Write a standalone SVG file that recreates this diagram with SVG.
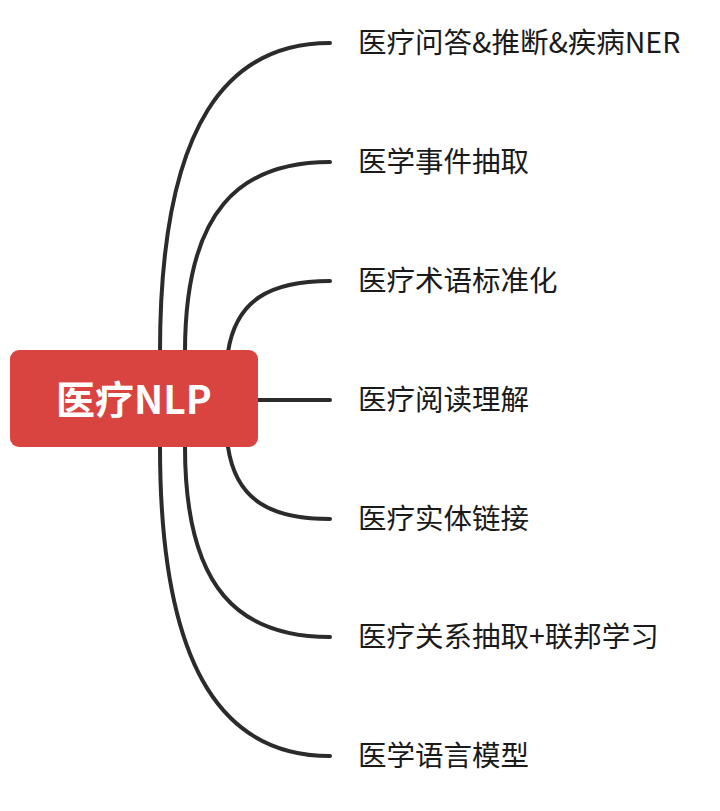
<svg xmlns="http://www.w3.org/2000/svg" width="720" height="811" viewBox="0 0 720 811">
<style>
.c{fill:none;stroke:#2b2b2b;stroke-width:4;stroke-linecap:round}
.t{font-family:"Noto Sans CJK SC","Liberation Sans",sans-serif;font-size:28.5px;fill:#1a1a1a}
</style>
<rect width="720" height="811" fill="#fff"/>
<g id="connectors">
<path class="c" d="M160,352 C160,120 230,43 330,43"/>
<path class="c" d="M185,352 C185,210 240,162 330,162"/>
<path class="c" d="M228,352 C236,300 270,281 330,281"/>
<path class="c" d="M258,400 L330,400"/>
<path class="c" d="M228,447 C236,500 270,519 330,519"/>
<path class="c" d="M185,447 C185,590 240,637 330,637"/>
<path class="c" d="M160,447 C160,680 230,756 330,756"/>
</g>
<g id="root">
<rect x="10" y="350" width="248" height="97" rx="9" fill="#d94340"/>
<text x="134" y="414" text-anchor="middle" font-family="Noto Sans CJK SC,Liberation Sans,sans-serif" font-size="39" font-weight="bold" fill="#fff">医疗NLP</text>
</g>
<g id="n1"><text class="t" x="358" y="53">医疗问答&amp;推断&amp;疾病NER</text></g>
<g id="n2"><text class="t" x="358" y="172">医学事件抽取</text></g>
<g id="n3"><text class="t" x="358" y="291">医疗术语标准化</text></g>
<g id="n4"><text class="t" x="358" y="410">医疗阅读理解</text></g>
<g id="n5"><text class="t" x="358" y="529">医疗实体链接</text></g>
<g id="n6"><text class="t" x="358" y="647">医疗关系抽取+联邦学习</text></g>
<g id="n7"><text class="t" x="358" y="766">医学语言模型</text></g>
</svg>
